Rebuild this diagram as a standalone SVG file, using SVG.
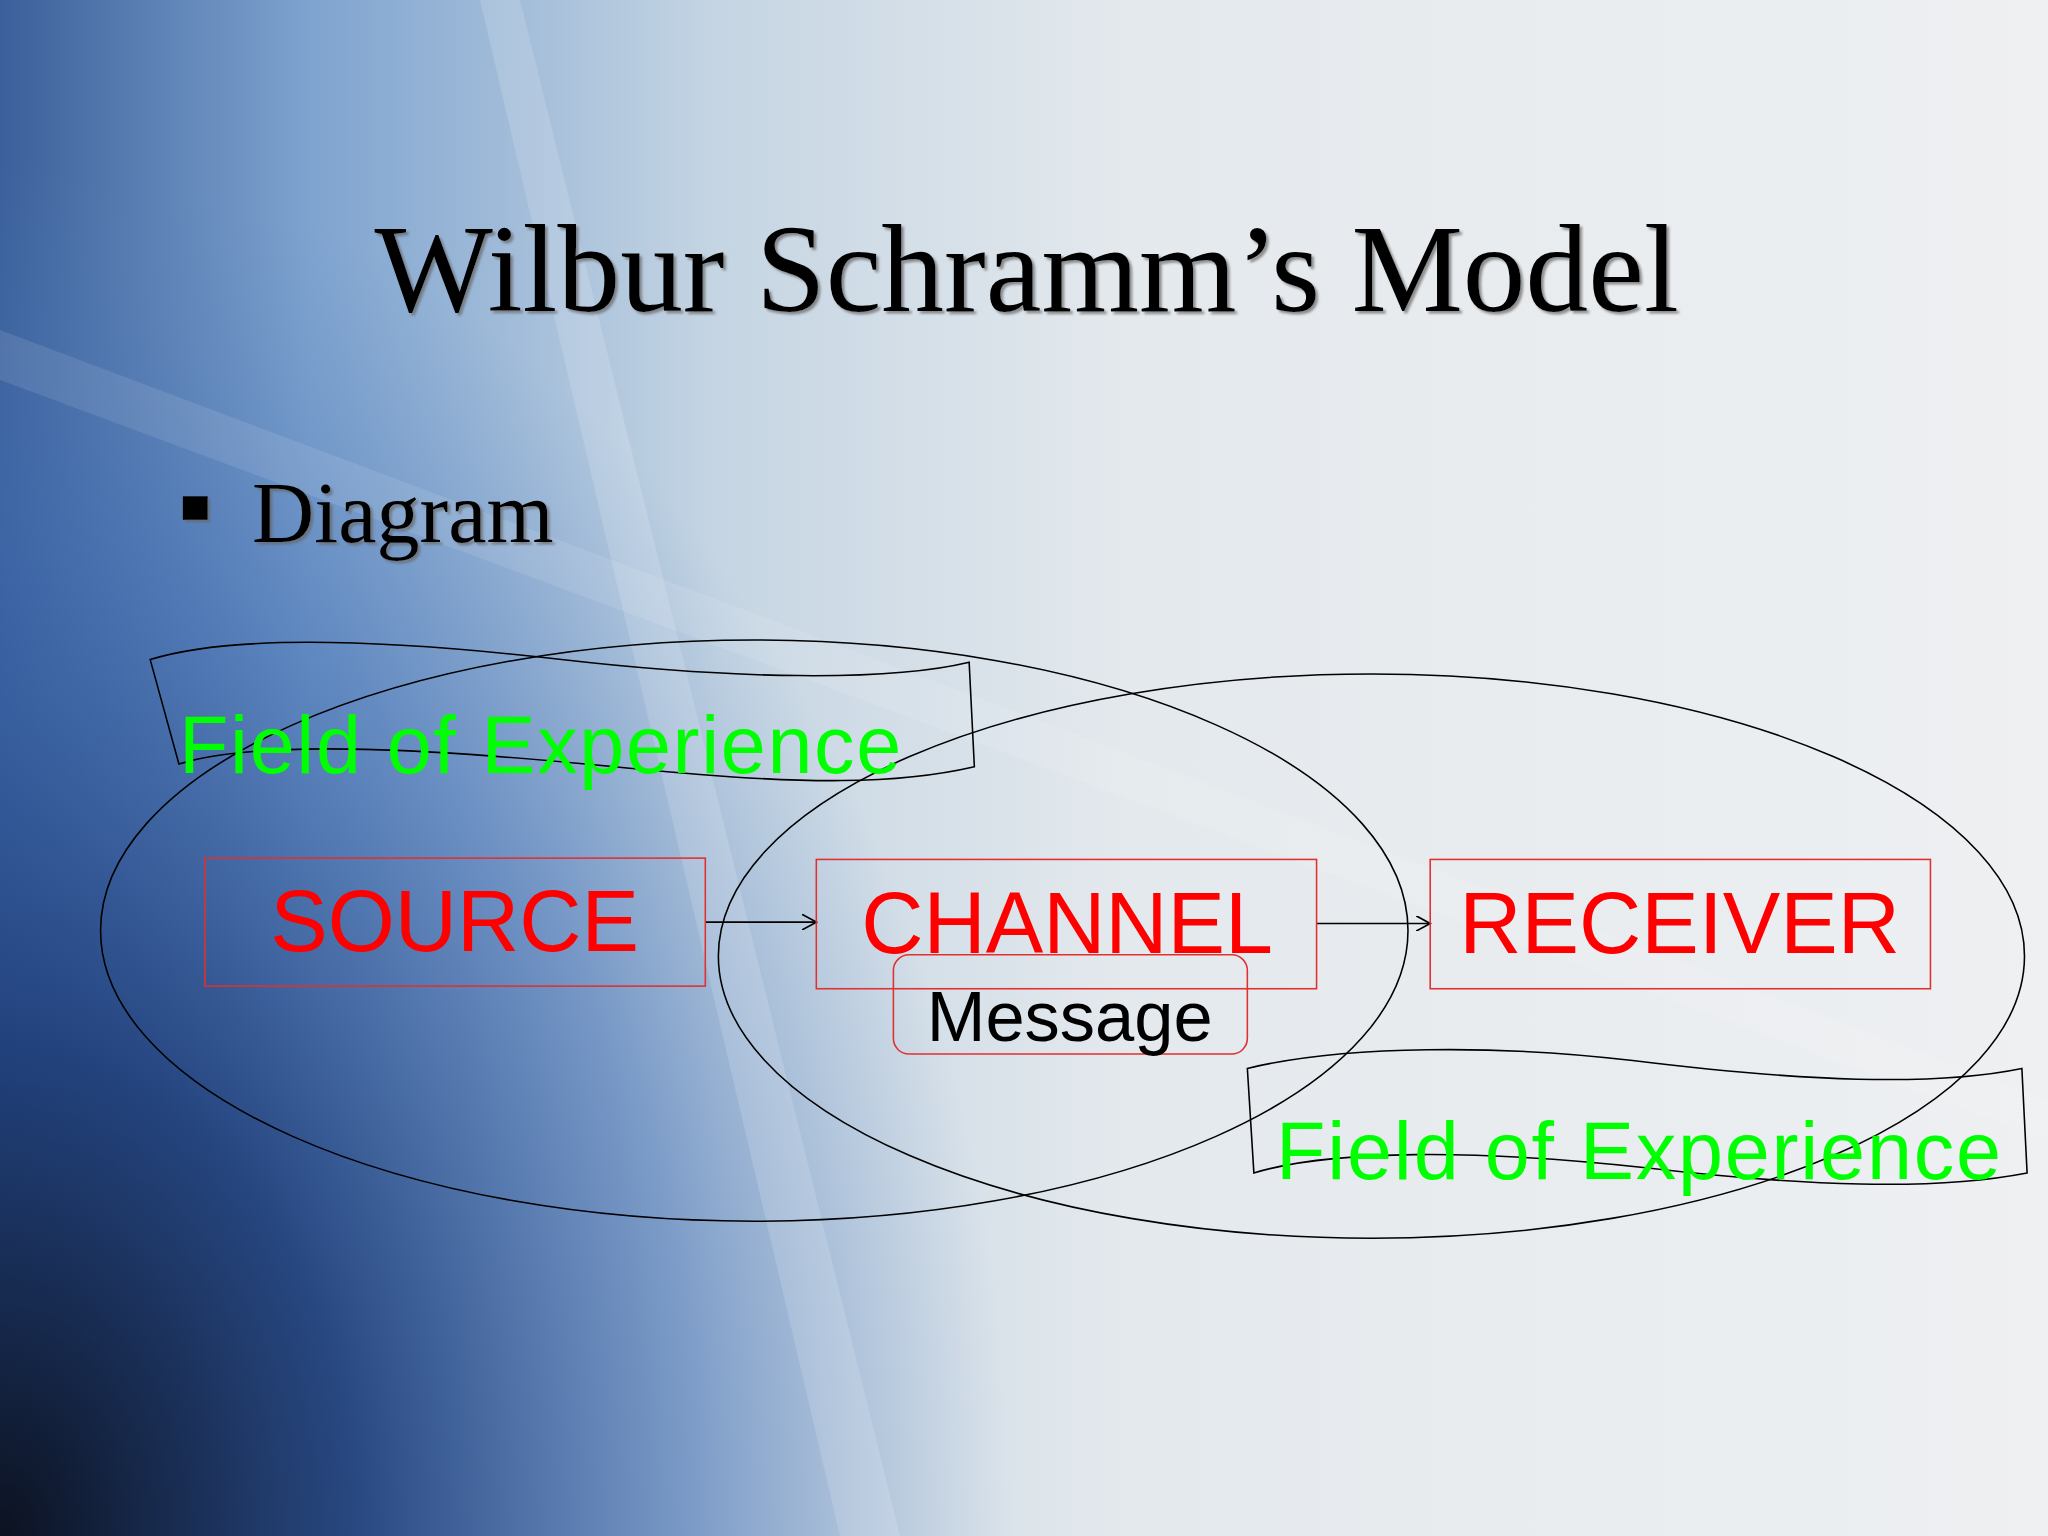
<svg xmlns="http://www.w3.org/2000/svg" width="2048" height="1536" viewBox="0 0 2048 1536">
<defs>
<linearGradient id="bg" x1="0" y1="0.5" x2="1" y2="0.5">
<stop offset="0" stop-color="#3a5f9a"/>
<stop offset="0.15" stop-color="#7ea3cf"/>
<stop offset="0.35" stop-color="#c5d5e3"/>
<stop offset="0.55" stop-color="#e4e9ed"/>
<stop offset="1" stop-color="#eef0f2"/>
</linearGradient>
<radialGradient id="dark" cx="0" cy="1" r="0.9" gradientTransform="scale(0.55,1)">
<stop offset="0" stop-color="#0c1220" stop-opacity="1"/>
<stop offset="0.35" stop-color="#1e3d78" stop-opacity="0.9"/>
<stop offset="0.7" stop-color="#3e6ab0" stop-opacity="0.5"/>
<stop offset="1" stop-color="#5a85c0" stop-opacity="0"/>
</radialGradient>
<marker id="ah" viewBox="0 0 12 12" refX="11" refY="6" markerWidth="12" markerHeight="12" markerUnits="userSpaceOnUse" orient="auto">
<path d="M0,0 L11,6 L0,12" fill="none" stroke="#000" stroke-width="1.3"/>
</marker>
<filter id="sh"><feDropShadow dx="2" dy="2" stdDeviation="1" flood-color="#666" flood-opacity="0.7"/></filter>
<style>
.ol{fill:none;stroke:#000;stroke-width:1.2}
.box{fill:none;stroke:#e03030;stroke-width:1.2}
.red{font-family:"Liberation Sans",Arial,sans-serif;font-size:66px;fill:#ff0000}
.grn{font-family:"Liberation Sans",Arial,sans-serif;font-size:62px;fill:#00ff00}
.blk{font-family:"Liberation Sans",Arial,sans-serif;font-size:54px;fill:#000}
.ser{font-family:"Liberation Serif","Times New Roman",serif;fill:#000}
</style>
</defs>
<rect width="2048" height="1536" fill="url(#bg)"/>
<rect width="2048" height="1536" fill="url(#dark)"/>
<path d="M480,0 L520,0 L900,1536 L840,1536 Z" fill="#ffffff" opacity="0.15"/>
<path d="M0,330 L2048,1100 L2048,1140 L0,380 Z" fill="#ffffff" opacity="0.1"/>
<g transform="scale(1.30612)">
<g id="title"><text class="ser" x="786" y="238" font-size="96" text-anchor="middle" filter="url(#sh)">Wilbur Schramm’s Model</text></g>
<g id="bullet"><rect x="140" y="380" width="19" height="18" fill="#000" filter="url(#sh)"/><text class="ser" x="193" y="415" font-size="66" filter="url(#sh)">Diagram</text></g>
<g id="ellipses">
<ellipse class="ol" cx="577.5" cy="712.5" rx="500.5" ry="222.5"/>
<ellipse class="ol" cx="1050" cy="732" rx="500" ry="216"/>
</g>
<g id="field1">
<path class="ol" d="M115,505 C180,485 300,490 430,505 C560,520 680,522 742,507 L746,587 C690,600 620,602 480,588 C340,574 200,565 137,585 Z"/>
<text class="grn" x="137" y="592" textLength="553">Field of Experience</text>
</g>
<g id="field2">
<path class="ol" d="M955,818 C1030,800 1150,800 1250,812 C1380,828 1480,832 1548,818 L1552,898 C1480,912 1380,908 1260,894 C1130,880 1020,880 960,898 Z"/>
<text class="grn" x="977" y="903" textLength="555">Field of Experience</text>
</g>
<g id="connectors">
<line class="ol" x1="540" y1="706" x2="625" y2="706" marker-end="url(#ah)"/>
<line class="ol" x1="1008" y1="707" x2="1095" y2="707" marker-end="url(#ah)"/>
</g>
<g id="source"><rect class="box" x="157" y="657" width="383" height="98"/><text class="red" x="348" y="728" text-anchor="middle">SOURCE</text></g>
<g id="channel"><rect class="box" x="625" y="658" width="383" height="99"/><text class="red" x="817" y="730" text-anchor="middle">CHANNEL</text></g>
<g id="receiver"><rect class="box" x="1095" y="658" width="383" height="99"/><text class="red" x="1286" y="730" text-anchor="middle">RECEIVER</text></g>
<g id="message"><rect class="box" x="684" y="731" width="271" height="76" rx="12"/><text class="blk" x="819" y="797" text-anchor="middle">Message</text></g>
</g>
</svg>
